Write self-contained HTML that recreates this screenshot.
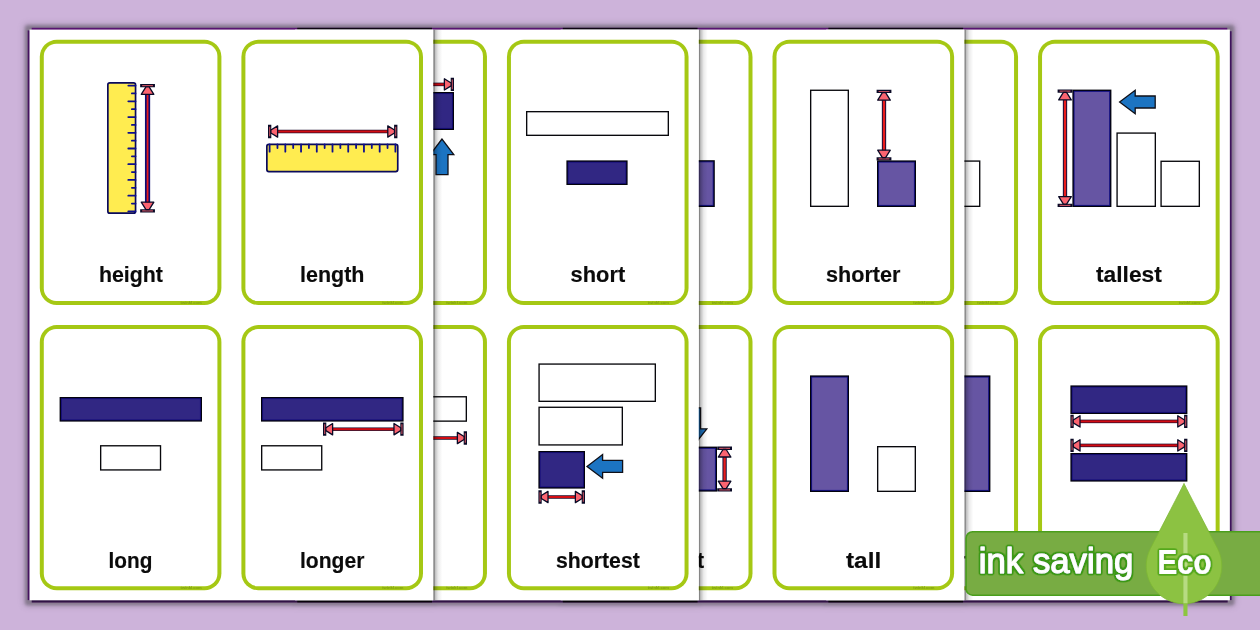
<!DOCTYPE html>
<html lang="en">
<head>
<meta charset="utf-8">
<title>Height and Length Vocabulary Cards</title>
<style>
html,body{margin:0;padding:0;}
body{width:1260px;height:630px;overflow:hidden;background:#cdb3da;font-family:"Liberation Sans",sans-serif;}
svg{display:block;}
text.w{font-family:"Liberation Sans",sans-serif;font-weight:bold;font-size:21.8px;text-anchor:middle;fill:#0b0b0b;stroke:#0b0b0b;stroke-width:0.15px;opacity:.999;}
text.tw{font-family:"Liberation Sans",sans-serif;font-size:4.1px;font-weight:bold;text-anchor:middle;fill:#7fa010;opacity:.999;}
</style>
</head>
<body>
<svg width="1260" height="630" viewBox="0 0 1260 630">
<defs>
<filter id="soft" x="-10%" y="-10%" width="120%" height="120%"><feGaussianBlur stdDeviation="1.8"/></filter>
<filter id="wide" x="-10%" y="-10%" width="120%" height="120%"><feGaussianBlur stdDeviation="3.2"/></filter>
<filter id="ol1" x="-5%" y="-25%" width="110%" height="150%">
<feMorphology in="SourceAlpha" operator="dilate" radius="1" result="d"/>
<feGaussianBlur in="d" stdDeviation="0.8" result="b"/>
<feComponentTransfer in="b" result="c"><feFuncA type="linear" slope="3" intercept="-0.25"/></feComponentTransfer>
<feFlood flood-color="#3a9812"/>
<feComposite in2="c" operator="in" result="o"/>
<feMerge><feMergeNode in="o"/><feMergeNode in="SourceGraphic"/></feMerge>
</filter>
<filter id="ol2" x="-8%" y="-25%" width="116%" height="150%">
<feMorphology in="SourceAlpha" operator="dilate" radius="1" result="d"/>
<feGaussianBlur in="d" stdDeviation="0.8" result="b"/>
<feComponentTransfer in="b" result="c"><feFuncA type="linear" slope="3" intercept="-0.25"/></feComponentTransfer>
<feFlood flood-color="#55a81c"/>
<feComposite in2="c" operator="in" result="o"/>
<feMerge><feMergeNode in="o"/><feMergeNode in="SourceGraphic"/></feMerge>
</filter>
<filter id="tight" x="-10%" y="-10%" width="120%" height="120%"><feGaussianBlur stdDeviation="0.45"/></filter>
<linearGradient id="edge" x1="0" y1="0" x2="1" y2="0">
<stop offset="0" stop-color="#000" stop-opacity="0.52"/>
<stop offset="0.15" stop-color="#000" stop-opacity="0.44"/>
<stop offset="0.2" stop-color="#000" stop-opacity="0.26"/>
<stop offset="0.55" stop-color="#000" stop-opacity="0.08"/>
<stop offset="1" stop-color="#000" stop-opacity="0"/>
</linearGradient>
<clipPath id="cp0"><rect x="29.5" y="29.6" width="403.7" height="570.7"/></clipPath>
<clipPath id="cp1"><rect x="295.05" y="29.6" width="403.7" height="570.7"/></clipPath>
<clipPath id="cp2"><rect x="560.6" y="29.6" width="403.7" height="570.7"/></clipPath>
<clipPath id="cp3"><rect x="826.15" y="29.6" width="403.7" height="570.7"/></clipPath>
</defs>
<rect width="1260" height="630" fill="#cdb3da"/>
<g id="shadows">
<g opacity="0.2" filter="url(#wide)" fill="#403848"><rect x="23.5" y="23.6" width="415.7" height="583.2" rx="4"/><rect x="289.05" y="23.6" width="415.7" height="583.2" rx="4"/><rect x="554.6" y="23.6" width="415.7" height="583.2" rx="4"/><rect x="820.15" y="23.6" width="415.7" height="583.2" rx="4"/></g>
<g opacity="0.42" filter="url(#soft)" fill="#4a4a4e"><rect x="24.9" y="25" width="412.9" height="580.5" rx="3"/><rect x="290.45" y="25" width="412.9" height="580.5" rx="3"/><rect x="556" y="25" width="412.9" height="580.5" rx="3"/><rect x="821.55" y="25" width="412.9" height="580.5" rx="3"/></g>
<g fill-opacity="0.95" filter="url(#tight)"><rect x="31.7" y="27.8" width="1195.55" height="2.8" fill="#561070"/><rect x="31.7" y="599.3" width="1195.95" height="3.2" fill="#2c0842"/><rect x="27.7" y="30.4" width="2.8" height="569.7" fill="#40105e"/><rect x="1228.85" y="31.2" width="2.7" height="568.9" fill="#3a0c58"/></g>
<g fill="#000" fill-opacity="0.85" filter="url(#tight)"><rect x="297.25" y="27.8" width="134.75" height="2.8"/><rect x="297.25" y="599.3" width="134.75" height="3.1"/><rect x="562.8" y="27.8" width="134.75" height="2.8"/><rect x="562.8" y="599.3" width="134.75" height="3.1"/><rect x="828.35" y="27.8" width="134.75" height="2.8"/><rect x="828.35" y="599.3" width="134.75" height="3.1"/></g>
</g>
<g id="page4">
<rect x="826.15" y="29.6" width="403.7" height="570.7" fill="#fff"/>
<g clip-path="url(#cp3)">
<g><rect x="836.45" y="39.85" width="181.6" height="265.1" rx="17" fill="#a5c814"/><rect x="840.45" y="43.85" width="173.6" height="257.1" rx="12.4" fill="#fff"/><text class="tw" x="987.85" y="304.2">twinkl.com</text><rect x="874" y="89.6" width="39" height="117.4" fill="#03030c"/><rect x="875.7" y="91.3" width="35.6" height="114" fill="#6655a3" stroke="#0e0c8c" stroke-width="0.8"/><rect x="942.07" y="161.08" width="37.65" height="45.25" fill="#fff" stroke="#08080c" stroke-width="1.35"/></g>
<g><rect x="1038.05" y="39.85" width="181.6" height="265.1" rx="17" fill="#a5c814"/><rect x="1042.05" y="43.85" width="173.6" height="257.1" rx="12.4" fill="#fff"/><text class="tw" x="1189.45" y="304.2">twinkl.com</text><rect x="1062.85" y="98.5" width="4.3" height="99.5" fill="#12103c"/><rect x="1063.85" y="98.5" width="2.3" height="99.5" fill="#e81c1c"/><polygon points="1072.4,89.5 1072.4,92.8 1057.6,92.8 1057.6,89.5" fill="#0a0a26"/><polygon points="1070.4,90.6 1070.4,91.8 1059.6,91.8 1059.6,90.6" fill="#fb6470" fill-opacity="0.75"/><polygon points="1066.6,92.4 1063.4,92.4 1058.7,99.9 1071.3,99.9" fill="#fb6470" stroke="#0a0a26" stroke-width="1.3" stroke-linejoin="round"/><polygon points="1057.6,207 1057.6,203.7 1072.4,203.7 1072.4,207" fill="#0a0a26"/><polygon points="1059.6,205.9 1059.6,204.7 1070.4,204.7 1070.4,205.9" fill="#fb6470" fill-opacity="0.75"/><polygon points="1063.4,204.1 1066.6,204.1 1071.3,196.6 1058.7,196.6" fill="#fb6470" stroke="#0a0a26" stroke-width="1.3" stroke-linejoin="round"/><rect x="1072.4" y="89.6" width="39" height="117.4" fill="#03030c"/><rect x="1074.1" y="91.3" width="35.6" height="114" fill="#6655a3" stroke="#0e0c8c" stroke-width="0.8"/><rect x="1117.08" y="133.08" width="38.25" height="73.25" fill="#fff" stroke="#08080c" stroke-width="1.35"/><rect x="1161.08" y="161.28" width="38.25" height="45.05" fill="#fff" stroke="#08080c" stroke-width="1.35"/><polygon points="1119.6,102 1135.2,90.2 1135.2,96 1155.2,96 1155.2,108 1135.2,108 1135.2,113.8" fill="#1c74c2" stroke="#101018" stroke-width="1.3"/><text class="w" x="1128.9" y="282.45" textLength="65.8" lengthAdjust="spacingAndGlyphs">tallest</text></g>
<g><rect x="836.45" y="325.1" width="181.6" height="265.1" rx="17" fill="#a5c814"/><rect x="840.45" y="329.1" width="173.6" height="257.1" rx="12.4" fill="#fff"/><text class="tw" x="987.85" y="589.45">twinkl.com</text><rect x="951.4" y="375.4" width="39" height="116.6" fill="#03030c"/><rect x="953.1" y="377.1" width="35.6" height="113.2" fill="#6655a3" stroke="#0e0c8c" stroke-width="0.8"/><text class="w" x="928.9" y="567.7" textLength="74.6" lengthAdjust="spacingAndGlyphs">shorter</text></g>
<g><rect x="1038.05" y="325.1" width="181.6" height="265.1" rx="17" fill="#a5c814"/><rect x="1042.05" y="329.1" width="173.6" height="257.1" rx="12.4" fill="#fff"/><text class="tw" x="1189.45" y="589.45">twinkl.com</text><rect x="1070.4" y="385.4" width="117" height="28.6" fill="#03030c"/><rect x="1072.1" y="387.1" width="113.6" height="25.2" fill="#312783" stroke="#150c86" stroke-width="0.8"/><rect x="1079.4" y="419.65" width="99" height="3.5" fill="#1c1030"/><rect x="1079.4" y="420.35" width="99" height="2.1" fill="#d40c12"/><polygon points="1070.4,414.74 1073.7,414.74 1073.7,428.06 1070.4,428.06" fill="#0a0a26"/><polygon points="1071.5,416.54 1072.7,416.54 1072.7,426.26 1071.5,426.26" fill="#fb6470" fill-opacity="0.75"/><polygon points="1073.3,419.96 1073.3,422.84 1080.02,427.07 1080.02,415.73" fill="#fb6470" stroke="#0a0a26" stroke-width="1.3" stroke-linejoin="round"/><polygon points="1187.4,428.06 1184.1,428.06 1184.1,414.74 1187.4,414.74" fill="#0a0a26"/><polygon points="1186.3,426.26 1185.1,426.26 1185.1,416.54 1186.3,416.54" fill="#fb6470" fill-opacity="0.75"/><polygon points="1184.5,422.84 1184.5,419.96 1177.78,415.73 1177.78,427.07" fill="#fb6470" stroke="#0a0a26" stroke-width="1.3" stroke-linejoin="round"/><rect x="1079.4" y="443.65" width="99" height="3.5" fill="#1c1030"/><rect x="1079.4" y="444.35" width="99" height="2.1" fill="#d40c12"/><polygon points="1070.4,438.74 1073.7,438.74 1073.7,452.06 1070.4,452.06" fill="#0a0a26"/><polygon points="1071.5,440.54 1072.7,440.54 1072.7,450.26 1071.5,450.26" fill="#fb6470" fill-opacity="0.75"/><polygon points="1073.3,443.96 1073.3,446.84 1080.02,451.07 1080.02,439.73" fill="#fb6470" stroke="#0a0a26" stroke-width="1.3" stroke-linejoin="round"/><polygon points="1187.4,452.06 1184.1,452.06 1184.1,438.74 1187.4,438.74" fill="#0a0a26"/><polygon points="1186.3,450.26 1185.1,450.26 1185.1,440.54 1186.3,440.54" fill="#fb6470" fill-opacity="0.75"/><polygon points="1184.5,446.84 1184.5,443.96 1177.78,439.73 1177.78,451.07" fill="#fb6470" stroke="#0a0a26" stroke-width="1.3" stroke-linejoin="round"/><rect x="1070.4" y="453" width="117" height="28.6" fill="#03030c"/><rect x="1072.1" y="454.7" width="113.6" height="25.2" fill="#312783" stroke="#150c86" stroke-width="0.8"/></g>
<rect x="964.3" y="29.6" width="9" height="570.7" fill="url(#edge)"/>
</g>
</g>
<g id="page3">
<rect x="560.6" y="29.6" width="403.7" height="570.7" fill="#fff"/>
<g clip-path="url(#cp2)">
<g><rect x="570.9" y="39.85" width="181.6" height="265.1" rx="17" fill="#a5c814"/><rect x="574.9" y="43.85" width="173.6" height="257.1" rx="12.4" fill="#fff"/><text class="tw" x="722.3" y="304.2">twinkl.com</text><rect x="608.67" y="90.27" width="37.65" height="116.05" fill="#fff" stroke="#08080c" stroke-width="1.35"/><rect x="675.4" y="160.2" width="39.4" height="46.8" fill="#03030c"/><rect x="677.1" y="161.9" width="36" height="43.4" fill="#6655a3" stroke="#0e0c8c" stroke-width="0.8"/></g>
<g><rect x="772.5" y="39.85" width="181.6" height="265.1" rx="17" fill="#a5c814"/><rect x="776.5" y="43.85" width="173.6" height="257.1" rx="12.4" fill="#fff"/><text class="tw" x="923.9" y="304.2">twinkl.com</text><rect x="810.67" y="90.27" width="37.65" height="116.05" fill="#fff" stroke="#08080c" stroke-width="1.35"/><rect x="881.85" y="98.8" width="4.3" height="52.8" fill="#12103c"/><rect x="882.85" y="98.8" width="2.3" height="52.8" fill="#e81c1c"/><polygon points="891.4,89.8 891.4,93.1 876.6,93.1 876.6,89.8" fill="#0a0a26"/><polygon points="889.4,90.9 889.4,92.1 878.6,92.1 878.6,90.9" fill="#fb6470" fill-opacity="0.75"/><polygon points="885.6,92.7 882.4,92.7 877.7,100.2 890.3,100.2" fill="#fb6470" stroke="#0a0a26" stroke-width="1.3" stroke-linejoin="round"/><polygon points="876.6,160.6 876.6,157.3 891.4,157.3 891.4,160.6" fill="#0a0a26"/><polygon points="878.6,159.5 878.6,158.3 889.4,158.3 889.4,159.5" fill="#fb6470" fill-opacity="0.75"/><polygon points="882.4,157.7 885.6,157.7 890.3,150.2 877.7,150.2" fill="#fb6470" stroke="#0a0a26" stroke-width="1.3" stroke-linejoin="round"/><rect x="877" y="160.4" width="39" height="46.6" fill="#03030c"/><rect x="878.7" y="162.1" width="35.6" height="43.2" fill="#6655a3" stroke="#0e0c8c" stroke-width="0.8"/><text class="w" x="863.2" y="282.45" textLength="74.4" lengthAdjust="spacingAndGlyphs">shorter</text></g>
<g><rect x="570.9" y="325.1" width="181.6" height="265.1" rx="17" fill="#a5c814"/><rect x="574.9" y="329.1" width="173.6" height="257.1" rx="12.4" fill="#fff"/><text class="tw" x="722.3" y="589.45">twinkl.com</text><rect x="590.67" y="376.07" width="37.65" height="115.25" fill="#fff" stroke="#08080c" stroke-width="1.35"/><rect x="634.67" y="417.68" width="37.65" height="73.65" fill="#fff" stroke="#08080c" stroke-width="1.35"/><rect x="678" y="446.6" width="39" height="45" fill="#03030c"/><rect x="679.7" y="448.3" width="35.6" height="41.6" fill="#6655a3" stroke="#0e0c8c" stroke-width="0.8"/><polygon points="694.6,444.4 682.4,428.8 688.6,428.8 688.6,407.9 700.6,407.9 700.6,428.8 706.8,428.8" fill="#1c74c2" stroke="#101018" stroke-width="1.3"/><rect x="722.45" y="455.6" width="4.3" height="27" fill="#12103c"/><rect x="723.45" y="455.6" width="2.3" height="27" fill="#e81c1c"/><polygon points="732,446.6 732,449.9 717.2,449.9 717.2,446.6" fill="#0a0a26"/><polygon points="730,447.7 730,448.9 719.2,448.9 719.2,447.7" fill="#fb6470" fill-opacity="0.75"/><polygon points="726.2,449.5 723,449.5 718.3,457 730.9,457" fill="#fb6470" stroke="#0a0a26" stroke-width="1.3" stroke-linejoin="round"/><polygon points="717.2,491.6 717.2,488.3 732,488.3 732,491.6" fill="#0a0a26"/><polygon points="719.2,490.5 719.2,489.3 730,489.3 730,490.5" fill="#fb6470" fill-opacity="0.75"/><polygon points="723,488.7 726.2,488.7 730.9,481.2 718.3,481.2" fill="#fb6470" stroke="#0a0a26" stroke-width="1.3" stroke-linejoin="round"/><text class="w" x="662" y="567.7" textLength="84" lengthAdjust="spacingAndGlyphs">shortest</text></g>
<g><rect x="772.5" y="325.1" width="181.6" height="265.1" rx="17" fill="#a5c814"/><rect x="776.5" y="329.1" width="173.6" height="257.1" rx="12.4" fill="#fff"/><text class="tw" x="923.9" y="589.45">twinkl.com</text><rect x="810" y="375.4" width="39" height="116.6" fill="#03030c"/><rect x="811.7" y="377.1" width="35.6" height="113.2" fill="#6655a3" stroke="#0e0c8c" stroke-width="0.8"/><rect x="877.67" y="446.68" width="37.65" height="44.65" fill="#fff" stroke="#08080c" stroke-width="1.35"/><text class="w" x="863.6" y="567.7" textLength="35.2" lengthAdjust="spacingAndGlyphs">tall</text></g>
<rect x="698.75" y="29.6" width="9" height="570.7" fill="url(#edge)"/>
</g>
</g>
<g id="page2">
<rect x="295.05" y="29.6" width="403.7" height="570.7" fill="#fff"/>
<g clip-path="url(#cp1)">
<g><rect x="305.35" y="39.85" width="181.6" height="265.1" rx="17" fill="#a5c814"/><rect x="309.35" y="43.85" width="173.6" height="257.1" rx="12.4" fill="#fff"/><text class="tw" x="456.75" y="304.2">twinkl.com</text><rect x="326" y="92" width="128" height="38" fill="#03030c"/><rect x="327.7" y="93.7" width="124.6" height="34.6" fill="#312783" stroke="#150c86" stroke-width="0.8"/><rect x="335" y="82.65" width="110" height="3.5" fill="#1c1030"/><rect x="335" y="83.35" width="110" height="2.1" fill="#d40c12"/><polygon points="326,77.74 329.3,77.74 329.3,91.06 326,91.06" fill="#0a0a26"/><polygon points="327.1,79.54 328.3,79.54 328.3,89.26 327.1,89.26" fill="#fb6470" fill-opacity="0.75"/><polygon points="328.9,82.96 328.9,85.84 335.62,90.07 335.62,78.73" fill="#fb6470" stroke="#0a0a26" stroke-width="1.3" stroke-linejoin="round"/><polygon points="454,91.06 450.7,91.06 450.7,77.74 454,77.74" fill="#0a0a26"/><polygon points="452.9,89.26 451.7,89.26 451.7,79.54 452.9,79.54" fill="#fb6470" fill-opacity="0.75"/><polygon points="451.1,85.84 451.1,82.96 444.38,78.73 444.38,90.07" fill="#fb6470" stroke="#0a0a26" stroke-width="1.3" stroke-linejoin="round"/><polygon points="442,139 430.2,154.6 436,154.6 436,174.6 448,174.6 448,154.6 453.8,154.6" fill="#1c74c2" stroke="#101018" stroke-width="1.3"/></g>
<g><rect x="506.95" y="39.85" width="181.6" height="265.1" rx="17" fill="#a5c814"/><rect x="510.95" y="43.85" width="173.6" height="257.1" rx="12.4" fill="#fff"/><text class="tw" x="658.35" y="304.2">twinkl.com</text><rect x="526.67" y="111.67" width="141.65" height="23.65" fill="#fff" stroke="#08080c" stroke-width="1.35"/><rect x="566.4" y="160.4" width="61.2" height="24.6" fill="#03030c"/><rect x="568.1" y="162.1" width="57.8" height="21.2" fill="#312783" stroke="#150c86" stroke-width="0.8"/><text class="w" x="597.9" y="282.45" textLength="54.6" lengthAdjust="spacingAndGlyphs">short</text></g>
<g><rect x="305.35" y="325.1" width="181.6" height="265.1" rx="17" fill="#a5c814"/><rect x="309.35" y="329.1" width="173.6" height="257.1" rx="12.4" fill="#fff"/><text class="tw" x="456.75" y="589.45">twinkl.com</text><rect x="326.68" y="396.78" width="139.65" height="24.35" fill="#fff" stroke="#08080c" stroke-width="1.35"/><rect x="415" y="436.25" width="43" height="3.5" fill="#1c1030"/><rect x="415" y="436.95" width="43" height="2.1" fill="#d40c12"/><polygon points="406,431.34 409.3,431.34 409.3,444.66 406,444.66" fill="#0a0a26"/><polygon points="407.1,433.14 408.3,433.14 408.3,442.86 407.1,442.86" fill="#fb6470" fill-opacity="0.75"/><polygon points="408.9,436.56 408.9,439.44 415.62,443.67 415.62,432.33" fill="#fb6470" stroke="#0a0a26" stroke-width="1.3" stroke-linejoin="round"/><polygon points="467,444.66 463.7,444.66 463.7,431.34 467,431.34" fill="#0a0a26"/><polygon points="465.9,442.86 464.7,442.86 464.7,433.14 465.9,433.14" fill="#fb6470" fill-opacity="0.75"/><polygon points="464.1,439.44 464.1,436.56 457.38,432.33 457.38,443.67" fill="#fb6470" stroke="#0a0a26" stroke-width="1.3" stroke-linejoin="round"/></g>
<g><rect x="506.95" y="325.1" width="181.6" height="265.1" rx="17" fill="#a5c814"/><rect x="510.95" y="329.1" width="173.6" height="257.1" rx="12.4" fill="#fff"/><text class="tw" x="658.35" y="589.45">twinkl.com</text><rect x="539.07" y="364.07" width="116.25" height="37.25" fill="#fff" stroke="#08080c" stroke-width="1.35"/><rect x="539.07" y="407.28" width="83.25" height="37.65" fill="#fff" stroke="#08080c" stroke-width="1.35"/><rect x="538.4" y="451" width="46.6" height="37.6" fill="#03030c"/><rect x="540.1" y="452.7" width="43.2" height="34.2" fill="#312783" stroke="#150c86" stroke-width="0.8"/><polygon points="587,466.4 602.6,454.6 602.6,460.4 622.6,460.4 622.6,472.4 602.6,472.4 602.6,478.2" fill="#1c74c2" stroke="#101018" stroke-width="1.3"/><rect x="547.4" y="495.25" width="28.6" height="3.5" fill="#1c1030"/><rect x="547.4" y="495.95" width="28.6" height="2.1" fill="#d40c12"/><polygon points="538.4,490.34 541.7,490.34 541.7,503.66 538.4,503.66" fill="#0a0a26"/><polygon points="539.5,492.14 540.7,492.14 540.7,501.86 539.5,501.86" fill="#fb6470" fill-opacity="0.75"/><polygon points="541.3,495.56 541.3,498.44 548.02,502.67 548.02,491.33" fill="#fb6470" stroke="#0a0a26" stroke-width="1.3" stroke-linejoin="round"/><polygon points="585,503.66 581.7,503.66 581.7,490.34 585,490.34" fill="#0a0a26"/><polygon points="583.9,501.86 582.7,501.86 582.7,492.14 583.9,492.14" fill="#fb6470" fill-opacity="0.75"/><polygon points="582.1,498.44 582.1,495.56 575.38,491.33 575.38,502.67" fill="#fb6470" stroke="#0a0a26" stroke-width="1.3" stroke-linejoin="round"/><text class="w" x="597.9" y="567.7" textLength="83.8" lengthAdjust="spacingAndGlyphs">shortest</text></g>
<rect x="433.2" y="29.6" width="9" height="570.7" fill="url(#edge)"/>
</g>
</g>
<g id="page1">
<rect x="29.5" y="29.6" width="403.7" height="570.7" fill="#fff"/>
<g clip-path="url(#cp0)">
<g><rect x="39.8" y="39.85" width="181.6" height="265.1" rx="17" fill="#a5c814"/><rect x="43.8" y="43.85" width="173.6" height="257.1" rx="12.4" fill="#fff"/><text class="tw" x="191.2" y="304.2">twinkl.com</text><rect x="107.85" y="82.85" width="27.7" height="130.3" rx="2" fill="#ffec50" stroke="#0a0a5c" stroke-width="1.7"/><path d="M128.3 85.6H135.5M131.9 93.46H135.5M128.3 101.32H135.5M131.9 109.19H135.5M128.3 117.05H135.5M131.9 124.91H135.5M128.3 132.78H135.5M131.9 140.64H135.5M128.3 148.5H135.5M131.9 156.36H135.5M128.3 164.22H135.5M131.9 172.09H135.5M128.3 179.95H135.5M131.9 187.81H135.5M128.3 195.68H135.5M131.9 203.54H135.5M128.3 211.4H135.5" stroke="#0e0e8e" stroke-width="1.8" stroke-linecap="round" fill="none"/><rect x="144.95" y="92.9" width="5.2" height="110.7" fill="#0c0c74"/><rect x="146.65" y="92.9" width="1.8" height="110.7" fill="#e81c1c"/><polygon points="154.95,83.9 154.95,87.2 140.15,87.2 140.15,83.9" fill="#0a0a26"/><polygon points="152.95,85 152.95,86.2 142.15,86.2 142.15,85" fill="#fb6470" fill-opacity="0.75"/><polygon points="149.15,86.8 145.95,86.8 141.25,94.3 153.85,94.3" fill="#fb6470" stroke="#0a0a26" stroke-width="1.3" stroke-linejoin="round"/><polygon points="140.15,212.6 140.15,209.3 154.95,209.3 154.95,212.6" fill="#0a0a26"/><polygon points="142.15,211.5 142.15,210.3 152.95,210.3 152.95,211.5" fill="#fb6470" fill-opacity="0.75"/><polygon points="145.95,209.7 149.15,209.7 153.85,202.2 141.25,202.2" fill="#fb6470" stroke="#0a0a26" stroke-width="1.3" stroke-linejoin="round"/><text class="w" x="130.9" y="282.45" textLength="64" lengthAdjust="spacingAndGlyphs">height</text></g>
<g><rect x="241.4" y="39.85" width="181.6" height="265.1" rx="17" fill="#a5c814"/><rect x="245.4" y="43.85" width="173.6" height="257.1" rx="12.4" fill="#fff"/><text class="tw" x="392.8" y="304.2">twinkl.com</text><rect x="277" y="129.75" width="111.4" height="3.5" fill="#1c1030"/><rect x="277" y="130.45" width="111.4" height="2.1" fill="#d40c12"/><polygon points="268,124.84 271.3,124.84 271.3,138.16 268,138.16" fill="#0a0a26"/><polygon points="269.1,126.64 270.3,126.64 270.3,136.36 269.1,136.36" fill="#fb6470" fill-opacity="0.75"/><polygon points="270.9,130.06 270.9,132.94 277.62,137.17 277.62,125.83" fill="#fb6470" stroke="#0a0a26" stroke-width="1.3" stroke-linejoin="round"/><polygon points="397.4,138.16 394.1,138.16 394.1,124.84 397.4,124.84" fill="#0a0a26"/><polygon points="396.3,136.36 395.1,136.36 395.1,126.64 396.3,126.64" fill="#fb6470" fill-opacity="0.75"/><polygon points="394.5,132.94 394.5,130.06 387.78,125.83 387.78,137.17" fill="#fb6470" stroke="#0a0a26" stroke-width="1.3" stroke-linejoin="round"/><rect x="266.85" y="144.45" width="130.9" height="27.1" rx="2" fill="#ffec50" stroke="#0a0a5c" stroke-width="1.7"/><path d="M269.6 144.5V151.7M277.46 144.5V148.1M285.33 144.5V151.7M293.19 144.5V148.1M301.05 144.5V151.7M308.91 144.5V148.1M316.78 144.5V151.7M324.64 144.5V148.1M332.5 144.5V151.7M340.36 144.5V148.1M348.23 144.5V151.7M356.09 144.5V148.1M363.95 144.5V151.7M371.81 144.5V148.1M379.68 144.5V151.7M387.54 144.5V148.1M395.4 144.5V151.7" stroke="#0e0e8e" stroke-width="1.8" stroke-linecap="round" fill="none"/><text class="w" x="332.2" y="282.45" textLength="64.4" lengthAdjust="spacingAndGlyphs">length</text></g>
<g><rect x="39.8" y="325.1" width="181.6" height="265.1" rx="17" fill="#a5c814"/><rect x="43.8" y="329.1" width="173.6" height="257.1" rx="12.4" fill="#fff"/><text class="tw" x="191.2" y="589.45">twinkl.com</text><rect x="59.6" y="397" width="142.4" height="24.6" fill="#03030c"/><rect x="61.3" y="398.7" width="139" height="21.2" fill="#312783" stroke="#150c86" stroke-width="0.8"/><rect x="100.67" y="445.78" width="59.85" height="24.15" fill="#fff" stroke="#08080c" stroke-width="1.35"/><text class="w" x="130.5" y="567.7" textLength="43.8" lengthAdjust="spacingAndGlyphs">long</text></g>
<g><rect x="241.4" y="325.1" width="181.6" height="265.1" rx="17" fill="#a5c814"/><rect x="245.4" y="329.1" width="173.6" height="257.1" rx="12.4" fill="#fff"/><text class="tw" x="392.8" y="589.45">twinkl.com</text><rect x="261" y="397" width="142.6" height="24.6" fill="#03030c"/><rect x="262.7" y="398.7" width="139.2" height="21.2" fill="#312783" stroke="#150c86" stroke-width="0.8"/><rect x="332" y="427.45" width="62.6" height="3.5" fill="#1c1030"/><rect x="332" y="428.15" width="62.6" height="2.1" fill="#d40c12"/><polygon points="323,422.54 326.3,422.54 326.3,435.86 323,435.86" fill="#0a0a26"/><polygon points="324.1,424.34 325.3,424.34 325.3,434.06 324.1,434.06" fill="#fb6470" fill-opacity="0.75"/><polygon points="325.9,427.76 325.9,430.64 332.62,434.87 332.62,423.53" fill="#fb6470" stroke="#0a0a26" stroke-width="1.3" stroke-linejoin="round"/><polygon points="403.6,435.86 400.3,435.86 400.3,422.54 403.6,422.54" fill="#0a0a26"/><polygon points="402.5,434.06 401.3,434.06 401.3,424.34 402.5,424.34" fill="#fb6470" fill-opacity="0.75"/><polygon points="400.7,430.64 400.7,427.76 393.98,423.53 393.98,434.87" fill="#fb6470" stroke="#0a0a26" stroke-width="1.3" stroke-linejoin="round"/><rect x="261.68" y="445.78" width="60.05" height="24.15" fill="#fff" stroke="#08080c" stroke-width="1.35"/><text class="w" x="332.2" y="567.7" textLength="64.4" lengthAdjust="spacingAndGlyphs">longer</text></g>
</g>
</g>
<g id="eco">
<rect x="966.1" y="531.7" width="300" height="63.5" rx="6.5" fill="#78ac43" stroke="#4a9e1c" stroke-width="1.6"/>
<path d="M1184 483.4 Q1183.2 485.6 1150.6 548.2 A37.8 37.8 0 1 0 1217.4 548.2 Q1184.8 485.6 1184 483.4 Z" fill="#8cc242" stroke="#7db733" stroke-width="0.8" stroke-linejoin="round"/>
<rect x="1183.4" y="533" width="4.1" height="70.5" fill="#b7db82"/>
<rect x="1183.4" y="603.5" width="4.1" height="12.5" fill="#8cc63f"/>
<g font-family="Liberation Sans, sans-serif" fill="#fff" stroke="#fff" stroke-linejoin="round">
<text x="978.8" y="573.2" font-size="34.2" stroke-width="1" textLength="154.6" lengthAdjust="spacingAndGlyphs" filter="url(#ol1)">ink saving</text>
<text x="1157.4" y="573.7" font-weight="bold" font-size="34.6" stroke-width="0.15" textLength="54.2" lengthAdjust="spacingAndGlyphs" filter="url(#ol2)">Eco</text>
</g>
</g>
</svg>
</body>
</html>
